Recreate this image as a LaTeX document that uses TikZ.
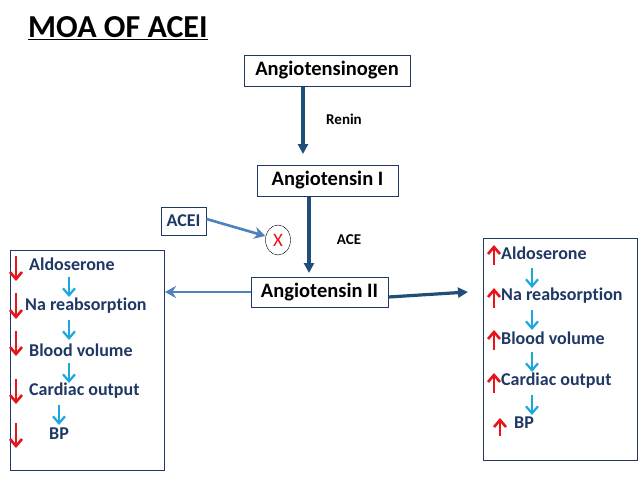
\documentclass[tikz,border=0pt]{standalone}
\usepackage{fontspec}
\setmainfont{Carlito}[Ligatures={NoCommon}]
\usetikzlibrary{arrows.meta,shapes.geometric}
\definecolor{dkb}{HTML}{1F4E79}
\definecolor{stb}{HTML}{4F81BD}
\definecolor{txb}{HTML}{1F3864}
\definecolor{cyn}{HTML}{1CA7DF}
\definecolor{rd}{HTML}{E8141B}
\begin{document}
\begin{tikzpicture}[x=1pt,y=-1pt,
 box/.style={draw=txb,line width=1pt,font=\bfseries\fontsize{20.5}{22}\selectfont,inner sep=0pt},
 main/.style={-{Triangle[length=10pt,width=10pt]},line width=3.2pt,dkb},
 side/.style={-{Stealth[length=11pt,width=12pt]},line width=2.6pt,stb},
 item/.style={anchor=west,text=txb,font=\bfseries\fontsize{18}{20}\selectfont,inner sep=0pt},
 ca/.style={-{Straight Barb[length=7pt,width=12pt]},line width=2.2pt,cyn},
 ra/.style={-{Straight Barb[length=7pt,width=12pt]},line width=2.6pt,rd},
 lbl/.style={font=\bfseries\fontsize{15}{17}\selectfont}]
\fill[white] (0,0) rectangle (638,479);
\useasboundingbox (0,0) rectangle (638,479);
\node[anchor=west,font=\bfseries\fontsize{32}{36}\selectfont,inner sep=0pt] (title) at (28,28) {\underline{MOA OF ACEI}};
\node[box,minimum width=166pt,minimum height=31pt] (ag) at (327,70.5) {Angiotensinogen};
\node[box,minimum width=141pt,minimum height=31pt] (a1) at (327.5,180.5) {Angiotensin I};
\node[box,minimum width=137pt,minimum height=30pt] (a2) at (319.5,292) {Angiotensin II};
\node[draw=txb,line width=1pt,minimum width=45pt,minimum height=28pt,inner sep=0pt,text=txb,font=\bfseries\fontsize{18}{20}\selectfont] (acei) at (183.5,221) {ACEI};
\node[draw,ellipse,minimum width=25pt,minimum height=30pt,inner sep=0pt,text=rd,font=\fontsize{19}{21}\selectfont] (x) at (278,240) {X};
\node[lbl] (renin) at (344,119) {Renin};
\node[lbl] (ace) at (349,240) {ACE};
\draw[main] (303,87) -- (303,154);
\draw[main] (309,197) -- (309,273);
\draw[side] (acei.east |- 0,219) -- (x.west |- 0,236);
\draw[side] (a2.west) -- (165,292);
\draw[main] (a2.east |- 0,297) -- (468,292);
\node[draw=txb,line width=1pt,minimum width=154pt,minimum height=220pt,inner sep=0pt] (lb) at (87,360) {};
\node[draw=txb,line width=1pt,minimum width=154pt,minimum height=222pt,inner sep=0pt] (rb) at (560,349) {};
% left
\node[item] (l1) at (29,264) {Aldoserone};
\node[item] (l2) at (25,306) {Na reabsorption};
\node[item] (l3) at (29,350) {Blood volume};
\node[item] (l4) at (29,391) {Cardiac output};
\node[item] (l5) at (49,434) {BP};
\foreach \a/\b in {256/281,293/319,331/356,379/404,423/448}{\draw[ra] (16,\a) -- (16,\b);}
\foreach \a/\b in {277/297,320/340,363/383}{\draw[ca] (69,\a) -- (69,\b);}
\draw[ca] (59,405) -- (59,425);
% right
\node[item] (r1) at (501,253) {Aldoserone};
\node[item] (r2) at (501,296) {Na reabsorption};
\node[item] (r3) at (501,338) {Blood volume};
\node[item] (r4) at (501,381) {Cardiac output};
\node[item] (r5) at (514,423) {BP};
\foreach \a/\b in {265/245,308/288,350/330,393/373}{\draw[ra] (494,\a) -- (494,\b);}
\draw[ra] (500,436) -- (500,418);
\foreach \a/\b in {268/288,310/330,352/372,395/415}{\draw[ca] (532,\a) -- (532,\b);}
\end{tikzpicture}
\end{document}
